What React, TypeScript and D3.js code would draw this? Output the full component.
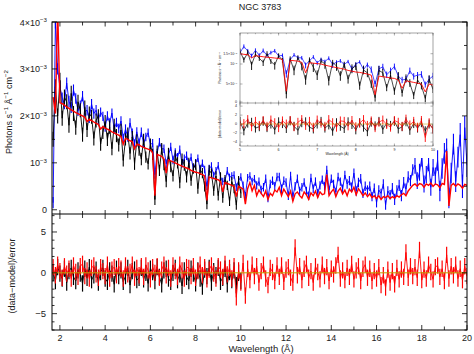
import React, { useRef, useEffect } from 'react';
import * as d3 from 'd3';

// binned spectra: first bin at 1.7 Å, 0.1 Å per bin (one row per Å)
const waveStart = 1.7;
const waveStep = 0.1;

// flux, units of 1e-5 photons s^-1 Å^-1 cm^-2
const megFlux = [
  15, 398, 300, 262, 238, 226, 270, 231, 218, 255,
  237, 211, 222, 242, 209, 212, 196, 225, 205, 212,
  192, 208, 199, 176, 200, 185, 206, 172, 186, 173,
  189, 152, 172, 155, 185, 163, 140, 166, 142, 165,
  141, 155, 164, 139, 142, 75, 121, 144, 130, 130,
  98, 116, 134, 106, 122, 112, 128, 99, 109, 115,
  99, 112, 87, 100, 110, 86, 99, 86, 50, 88,
  93, 73, 83, 94, 70, 60, 62, 83, 69, 72,
  74, 48, 62, 70, 52, 30, 68, 72, 60, 66,
  52, 60, 42, 48, 66, 25, 55, 62, 50, 70,
  70, 45, 62, 58, 30, 72, 28, 50, 66, 40,
  48, 58, 40, 30, 68, 45, 60, 35, 52, 64,
  50, 85, 42, 66, 55, 38, 70, 60, 45, 74,
  55, 62, 48, 78, 40, 58, 66, 35, 50, 42,
  50, 28, 46, 15, 42, 35, 55, 10, 40, 32,
  45, 22, 40, 52, 30, 58, 44, 70, 62, 85,
  95, 62, 80, 110, 55, 75, 100, 48, 90, 72,
  105, 40, 88, 120, 130, 25, 78, 140, 60, 112,
  160, 50, 175, 95,
];
// 1-sigma error of the MEG bins, one value per row (Å)
const megErr = [12, 11, 10, 10, 9, 9, 8, 8, 8, 9, 9, 9, 9, 10, 10, 12, 18, 22, 25];

const hegFlux = [
  150, 262, 200, 276, 195, 240, 230, 180, 248, 205,
  175, 230, 212, 160, 218, 170, 205, 198, 152, 190,
  200, 140, 165, 188, 150, 176, 130, 180, 158, 138,
  170, 105, 150, 162, 120, 155, 98, 148, 128, 108,
  150, 112, 98, 140, 118, 22, 125, 84, 130, 96,
  60, 120, 92, 72, 115, 100, 58, 108, 95, 70,
  100, 62, 88, 96, 45, 85, 78, 50, 12, 84,
  78, 40, 72, 30, 70, 25, 64, 52, 18, 60,
  45, 10, 62, 35,
];
const hegErr = [16, 15, 14, 13, 12, 12, 11, 10, 10];

const modelFlux = [
  240, 205, 430, 228, 226, 223, 219, 216, 213, 210,
  207, 205, 202, 200, 197, 188, 193, 190, 187, 184,
  182, 172, 177, 174, 172, 169, 166, 164, 161, 159,
  156, 140, 152, 150, 147, 145, 130, 140, 138, 135,
  133, 131, 129, 127, 122, 30, 118, 116, 114, 108,
  78, 106, 104, 102, 100, 97, 95, 93, 91, 89,
  87, 84, 82, 80, 79, 77, 75, 72, 20, 70,
  68, 67, 65, 64, 60, 38, 58, 56, 54, 52,
  50, 28, 50, 47, 44, 12, 45, 58, 40, 52,
  30, 42, 35, 28, 40, 22, 35, 30, 42, 38,
  48, 30, 44, 36, 28, 40, 18, 34, 38, 30,
  25, 38, 32, 22, 36, 30, 40, 26, 38, 32,
  34, 75, 30, 38, 44, 28, 40, 46, 34, 42,
  30, 44, 38, 48, 32, 45, 38, 30, 36, 28,
  34, 26, 30, 24, 30, 22, 28, 26, 30, 24,
  28, 25, 30, 27, 32, 35, 30, 40, 46, 52,
  55, 50, 56, 54, 48, 55, 52, 57, 50, 55,
  53, 47, 56, 54, 125, 8, 52, 56, 50, 55,
  52, 46, 54, 52,
];

// (data-model)/error, error bars are +-1 by definition
const hegResid = [
  0.0, -1.0, 0.7, -0.1, -0.7, 0.5, -1.2, 0.2, 0.6, -0.5,
  -1.0, 0.3, -0.1, -1.3, 0.5, -0.6, 0.7, -0.9, -0.3, 0.4,
  -1.2, 0.1, 0.6, -0.7, -1.1, 0.3, -0.1, -1.4, 0.5, -0.4,
  0.3, -1.1, -0.4, 0.6, -1.5, 0.2, 0.4, -0.9, -0.6, 0.6,
  -0.8, 0.0, -1.3, 0.5, 0.1, -1.0, 0.7, -0.5, -1.4, 0.3,
  0.5, -0.7, -1.1, 0.0, 0.6, -0.9, -0.2, -1.6, 0.3, -0.5,
  -1.0, 0.5, -0.1, -1.3, 0.3, -0.7, -1.7, 0.4, -0.4, 0.6,
  -1.2, 0.2, -0.3, 0.6, -1.1, -0.6, 0.5, -1.4, 0.1, -0.9,
  0.3, -1.5, 0.0, -1.0,
];

const megResid = [
  0.7, -0.3, 1.0, 0.2, -0.6, 0.8, -0.1, 0.5, -0.7, 0.9,
  0.1, -0.5, 0.8, 1.1, -0.4, 0.3, -0.7, 0.6, 0.9, -0.2,
  -0.6, 0.7, 0.2, -0.4, 1.0, -0.7, 0.4, 0.7, -0.3, 0.8,
  0.5, -0.7, 0.9, -0.2, 0.1, 1.0, -0.6, 0.6, -0.3, 0.8,
  -0.5, 0.9, 0.3, -0.8, 0.7, 0.0, 0.8, -0.6, 0.4, 1.0,
  -0.3, 0.6, -0.7, 0.9, 0.2, -0.5, 1.0, 0.3, -0.7, 0.7,
  0.6, -0.4, 0.8, -0.6, 0.2, 1.0, -0.3, 0.7, -0.8, 0.4,
  0.9, -0.1, -0.7, 0.8, 0.4, -0.5, 1.1, -0.2, 0.6, -0.7,
  0.8, -3.0, 0.3, -1.2, 1.2, -2.8, 0.5, -0.9, 1.0, -0.4,
  0.8, -1.2, 0.2, 1.0, -0.7, -1.5, 0.6, 0.1, -1.0, 0.9,
  -0.5, 0.9, -1.1, 0.4, 0.7, -0.6, -1.2, 3.1, -0.3, 0.8,
  -0.9, 0.5, 1.1, -0.6, 0.2, -1.2, 0.8, 0.1, -0.8, 1.0,
  -0.4, 0.7, -1.0, 0.5, -0.2, 0.9, 2.2, -0.7, 0.3, -0.9,
  0.6, -0.5, 1.1, -0.8, 0.3, 0.8, -1.0, 0.5, 1.0, -0.6,
  0.5, -1.0, 0.2, -0.7, 0.7, -1.5, -0.3, -1.8, 0.4, -1.2,
  0.2, -1.4, 0.6, -0.8, 0.4, -0.5, 2.5, -0.6, 0.8, -0.4,
  0.7, -0.6, 2.8, -0.9, 0.4, -0.7, 1.0, 0.1, -0.8, 0.7,
  0.9, -0.5, 0.5, -1.0, 2.2, -0.7, 0.8, -0.3, 1.0, -0.7,
  0.5, -0.9, 0.8, -0.4,
];
const residErr = [1];

const xTicks = [2, 4, 6, 8, 10, 12, 14, 16, 18, 20];
const fluxTicks = [0, 100, 200, 300, 400];
const fluxTickLabels = [['0', ''], ['10', '−3'], ['2×10', '−3'], ['3×10', '−3'], ['4×10', '−3']];
const residTicks = [-5, 0, 5];
const residTickLabels = ['−5', '0', '5'];
const insetXTicks = [5, 6, 7, 8, 9, 10];
const insetFluxTicks = [0, 50, 100, 150];
const insetFluxTickLabels = [['0', ''], ['5×10', '−4'], ['10', '−3'], ['1.5×10', '−3']];
const insetResidTicks = [-4, -2, 0, 2, 4];

const App = () => {
  const svgRef = useRef(null);

  useEffect(() => {
    document.body.style.margin = '0';
    const svg = d3.select(svgRef.current);
    svg.selectAll('*').remove();
    svg.attr('width', 474).attr('height', 354)
      .style('font-family', "'Liberation Sans', Arial, sans-serif")
      .style('background', '#fff');

    const wave = (i: number) => waveStart + i * waveStep;
    // [wavelength, value, error]
    const pts = (vals: number[], errs: number[], lo = -Infinity, hi = Infinity) =>
      vals.map((v, i) => [wave(i), v, errs[Math.min(Math.floor(i / 10), errs.length - 1)]])
        .filter(d => d[0] >= lo && d[0] <= hi);

    const defs = svg.append('defs');
    const addClip = (id: string, x0: number, y0: number, w: number, h: number) => {
      defs.append('clipPath').attr('id', id).append('rect')
        .attr('x', x0).attr('y', y0).attr('width', w).attr('height', h);
    };

    const drawLine = (g, data, xs, ys, color, w) => {
      g.append('path').datum(data)
        .attr('fill', 'none').attr('stroke', color).attr('stroke-width', w)
        .attr('d', d3.line().x(d => xs(d[0])).y(d => ys(d[1])));
    };
    const drawSpectrum = (g, data, xs, ys, color, w, barW = w) => {
      g.append('g').selectAll('line').data(data).enter().append('line')
        .attr('x1', d => xs(d[0])).attr('x2', d => xs(d[0]))
        .attr('y1', d => ys(d[1] - d[2])).attr('y2', d => ys(d[1] + d[2]))
        .attr('stroke', color).attr('stroke-width', barW);
      drawLine(g, data, xs, ys, color, w);
    };

    const hTicks = (g, vals, xs, y0, len, color, w) => {
      g.selectAll(null).data(vals).enter().append('line')
        .attr('x1', d => xs(d)).attr('x2', d => xs(d))
        .attr('y1', y0).attr('y2', y0 + len)
        .attr('stroke', color).attr('stroke-width', w);
    };
    const vTicks = (g, vals, ys, x0, len, color, w) => {
      g.selectAll(null).data(vals).enter().append('line')
        .attr('y1', d => ys(d)).attr('y2', d => ys(d))
        .attr('x1', x0).attr('x2', x0 + len)
        .attr('stroke', color).attr('stroke-width', w);
    };

    const supText = (g, xp, yp, parts, size, anchor, transform?) => {
      const t = g.append('text').attr('font-size', size).attr('text-anchor', anchor).attr('fill', '#222');
      if (transform) t.attr('transform', transform); else t.attr('x', xp).attr('y', yp);
      let up = false;
      parts.forEach(([s, sup]) => {
        if (!s) return;
        const ts = t.append('tspan').text(s);
        if (sup && !up) { ts.attr('dy', -size * 0.4).attr('font-size', size * 0.68); up = true; }
        else if (sup) ts.attr('font-size', size * 0.68);
        else if (up) { ts.attr('dy', size * 0.4); up = false; }
      });
      return t;
    };

    // ---------- main panels ----------
    const left = 52, right = 467, top = 22, mid = 214, bottom = 330;
    const x = d3.scaleLinear().domain([1.65, 20]).range([left, right]);
    const yFlux = d3.scaleLinear().domain([-9, 400]).range([mid, top]);
    const yRes = d3.scaleLinear().domain([-7, 7.2]).range([bottom, mid]);

    addClip('clipTop', left, top, right - left, mid - top);
    addClip('clipBot', left, mid, right - left, bottom - mid);

    const gTop = svg.append('g').attr('clip-path', 'url(#clipTop)');
    drawSpectrum(gTop, pts(megFlux, megErr), x, yFlux, '#0000ff', 0.9, 1.1);
    drawSpectrum(gTop, pts(hegFlux, hegErr), x, yFlux, '#000', 0.9, 1.1);
    drawLine(gTop, pts(modelFlux, [0]), x, yFlux, '#ff0000', 1.4);

    const gBot = svg.append('g').attr('clip-path', 'url(#clipBot)');
    drawSpectrum(gBot, pts(hegResid, residErr), x, yRes, '#000', 0.9, 1.2);
    drawSpectrum(gBot, pts(megResid, residErr), x, yRes, '#ff0000', 0.9, 1.2);
    gBot.append('line').attr('x1', left).attr('x2', right)
      .attr('y1', yRes(0)).attr('y2', yRes(0))
      .attr('stroke', '#c0a000').attr('stroke-width', 1);

    // frame
    const axes = svg.append('g');
    axes.append('rect').attr('x', left).attr('y', top).attr('width', right - left).attr('height', bottom - top)
      .attr('fill', 'none').attr('stroke', '#000').attr('stroke-width', 1);
    axes.append('line').attr('x1', left).attr('x2', right).attr('y1', mid).attr('y2', mid)
      .attr('stroke', '#000').attr('stroke-width', 1);

    const xMinor = d3.range(2, 20.01, 1).filter(v => v % 2 !== 0);
    hTicks(axes, xTicks, x, top, 4.5, '#000', 0.8);
    hTicks(axes, xMinor, x, top, 3.5, '#000', 0.8);
    hTicks(axes, xTicks, x, mid - 4, 9, '#000', 0.8);
    hTicks(axes, xMinor, x, mid - 3, 7, '#000', 0.8);
    hTicks(axes, xTicks, x, bottom, -5, '#000', 0.8);
    hTicks(axes, xMinor, x, bottom, -3.5, '#000', 0.8);

    const fluxMinor = d3.range(50, 400, 100);
    vTicks(axes, fluxTicks, yFlux, left, 5, '#000', 0.8);
    vTicks(axes, fluxMinor, yFlux, left, 3, '#000', 0.8);
    vTicks(axes, fluxTicks, yFlux, right, -5, '#000', 0.8);
    vTicks(axes, fluxMinor, yFlux, right, -3, '#000', 0.8);

    const resMinor = d3.range(-7, 7.1, 1).filter(v => v % 5 !== 0);
    vTicks(axes, residTicks, yRes, left, 5, '#000', 0.8);
    vTicks(axes, resMinor, yRes, left, 2.5, '#000', 0.8);
    vTicks(axes, residTicks, yRes, right, -5, '#000', 0.8);
    vTicks(axes, resMinor, yRes, right, -2.5, '#000', 0.8);

    fluxTicks.forEach((v, i) => {
      supText(axes, 47, yFlux(v) + 3.5, [[fluxTickLabels[i][0], false], [fluxTickLabels[i][1], true]], 9, 'end');
    });
    residTicks.forEach((v, i) => {
      axes.append('text').attr('x', 46).attr('y', yRes(v) + 3.5)
        .attr('font-size', 9.5).attr('text-anchor', 'end').attr('fill', '#222').text(residTickLabels[i]);
    });
    xTicks.forEach(v => {
      axes.append('text').attr('x', x(v)).attr('y', 340.5)
        .attr('font-size', 9).attr('text-anchor', 'middle').attr('fill', '#222').text(v);
    });

    axes.append('text').attr('x', 261).attr('y', 352).attr('font-size', 9.5)
      .attr('text-anchor', 'middle').attr('fill', '#222').text('Wavelength (Å)');
    axes.append('text').attr('x', 260).attr('y', 10).attr('font-size', 9)
      .attr('text-anchor', 'middle').attr('fill', '#222').text('NGC 3783');
    supText(axes, 0, 0, [['Photons s', false], ['−1', true], [' Å', false], ['−1', true], [' cm', false], ['−2', true]],
      9, 'middle', 'translate(12,112) rotate(-90)');
    axes.append('text').attr('transform', 'translate(15,276) rotate(-90)').attr('font-size', 9)
      .attr('text-anchor', 'middle').attr('fill', '#222').text('(data−model)/error');

    // ---------- inset (5–10 Å) ----------
    const iL = 240, iR = 433, iT = 33, iM = 103, iB = 146;
    const ix = d3.scaleLinear().domain([5, 10]).range([iL, iR]);
    const iyFlux = d3.scaleLinear().domain(insetFluxTicks).range([102, 84, 64, 53.7]);
    const iyRes = d3.scaleLinear().domain([-4.9, 4.7]).range([iB, iM]);

    const inset = svg.append('g');
    inset.append('rect').attr('x', 214).attr('y', 30).attr('width', 222).attr('height', 128).attr('fill', '#fff');

    addClip('clipInTop', iL, iT, iR - iL, iM - iT);
    addClip('clipInBot', iL, iM, iR - iL, iB - iM);

    const giTop = inset.append('g').attr('clip-path', 'url(#clipInTop)');
    drawSpectrum(giTop, pts(megFlux, megErr, 4.95, 10.05), ix, iyFlux, '#0000ff', 0.7, 0.9);
    drawSpectrum(giTop, pts(hegFlux, hegErr, 4.95, 10.05), ix, iyFlux, '#000', 0.7, 0.9);
    drawLine(giTop, pts(modelFlux, [0], 4.95, 10.05), ix, iyFlux, '#ff0000', 0.9);

    const giBot = inset.append('g').attr('clip-path', 'url(#clipInBot)');
    drawSpectrum(giBot, pts(hegResid, residErr, 4.95, 10.05), ix, iyRes, '#000', 0.7, 0.9);
    drawSpectrum(giBot, pts(megResid, residErr, 4.95, 10.05), ix, iyRes, '#ff0000', 0.7, 0.9);
    giBot.append('line').attr('x1', iL).attr('x2', iR).attr('y1', iyRes(0)).attr('y2', iyRes(0))
      .attr('stroke', '#c0a000').attr('stroke-width', 0.5);

    const gray = '#666';
    inset.append('rect').attr('x', iL).attr('y', iT).attr('width', iR - iL).attr('height', iB - iT)
      .attr('fill', 'none').attr('stroke', gray).attr('stroke-width', 0.6);
    inset.append('line').attr('x1', iL).attr('x2', iR).attr('y1', iM).attr('y2', iM)
      .attr('stroke', gray).attr('stroke-width', 0.6);

    const ixMinor = d3.range(5, 10.01, 0.2);
    hTicks(inset, insetXTicks, ix, iT, 2.5, gray, 0.5);
    hTicks(inset, ixMinor, ix, iT, 1.2, gray, 0.5);
    hTicks(inset, insetXTicks, ix, iM - 2.5, 5, gray, 0.5);
    hTicks(inset, ixMinor, ix, iM - 1.2, 2.4, gray, 0.5);
    hTicks(inset, insetXTicks, ix, iB, -2.5, gray, 0.5);
    hTicks(inset, ixMinor, ix, iB, -1.2, gray, 0.5);
    vTicks(inset, insetFluxTicks, iyFlux, iL, 2.5, gray, 0.5);
    vTicks(inset, insetFluxTicks, iyFlux, iR, -2.5, gray, 0.5);
    vTicks(inset, insetResidTicks, iyRes, iL, 2.5, gray, 0.5);
    vTicks(inset, insetResidTicks, iyRes, iR, -2.5, gray, 0.5);

    insetFluxTicks.forEach((v, i) => {
      supText(inset, 237, iyFlux(v) + 1.3, [[insetFluxTickLabels[i][0], false], [insetFluxTickLabels[i][1], true]], 3.6, 'end');
    });
    insetResidTicks.forEach(v => {
      inset.append('text').attr('x', 237).attr('y', iyRes(v) + 1.3).attr('font-size', 3.6)
        .attr('text-anchor', 'end').attr('fill', '#222').text(v < 0 ? '−' + Math.abs(v) : v);
    });
    insetXTicks.forEach(v => {
      inset.append('text').attr('x', ix(v)).attr('y', 150.5).attr('font-size', 3.6)
        .attr('text-anchor', 'middle').attr('fill', '#222').text(v);
    });
    inset.append('text').attr('x', 337).attr('y', 154.5).attr('font-size', 3.4)
      .attr('text-anchor', 'middle').attr('fill', '#222').text('Wavelength (Å)');
    supText(inset, 0, 0, [['Photons s', false], ['−1', true], [' Å', false], ['−1', true], [' cm', false], ['−2', true]],
      3.4, 'middle', 'translate(221,68) rotate(-90)');
    inset.append('text').attr('transform', 'translate(221,124) rotate(-90)').attr('font-size', 3.4)
      .attr('text-anchor', 'middle').attr('fill', '#222').text('(data−model)/error');

    return () => {
      d3.select(svgRef.current).selectAll('*').remove();
    };
  }, []);

  return (
    <div>
      <svg ref={svgRef} style={{ display: 'block' }}></svg>
    </div>
  );
};

export default App;
